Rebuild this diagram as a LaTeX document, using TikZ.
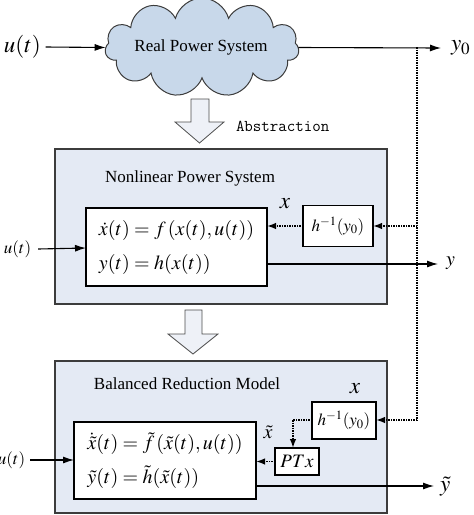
\documentclass[tikz,border=0pt]{standalone}
\usepackage{mathptmx}
\usepackage{fontspec}
\setmainfont{Liberation Serif}
\usetikzlibrary{shapes.symbols,arrows.meta}
\definecolor{boxblue}{HTML}{E4EAF4}
\definecolor{cloudblue}{HTML}{C8D8EA}
\definecolor{hollowfill}{HTML}{EEF1F7}
\definecolor{edgegray}{HTML}{3C3C3C}
\begin{document}
\begin{tikzpicture}[x=1pt,y=-1pt,
  every node/.style={inner sep=0pt,outer sep=0pt},
  arr/.style={line width=1.1pt,-{Latex[length=11pt,width=7pt]}},
  darr/.style={line width=1.5pt,densely dotted,-{Latex[length=9pt,width=6.5pt]}},
  dline/.style={line width=1.5pt,densely dotted},
  outerbox/.style={draw=edgegray,fill=boxblue,line width=1.2pt},
  innerbox/.style={draw=black,fill=white,line width=1.2pt,align=left,
    font=\fontsize{20}{34}\selectfont},
  smallbox/.style={draw=black,fill=white,line width=1.2pt},
  hollowarrow/.style={draw=black!70,fill=hollowfill,line width=0.8pt},
  titletext/.style={font=\fontsize{17}{20}\selectfont},
  bigmath/.style={font=\fontsize{23}{26}\selectfont},
  midmath/.style={font=\fontsize{20}{24}\selectfont},
  smallmath/.style={font=\fontsize{17}{20}\selectfont}]
\useasboundingbox (0,0) rectangle (474,515);

% top: real power system
\node[cloud,cloud puffs=11,cloud ignores aspect,draw=edgegray,fill=cloudblue,line width=1pt,
  minimum width=194pt,minimum height=99pt] (cloud) at (202,47.5) {};
\node[titletext] (cloudt) at (201,47) {Real Power System};
\node[bigmath,anchor=west] (u0) at (4,47) {$u(t)$};
\node[bigmath,anchor=west] (y0) at (451,48) {$y_0$};
\coordinate (j0) at (417,47);
\draw[arr] (u0.east) ++(5,0) -- (cloud.west);
\draw[arr] (cloud.east) -- ([xshift=-10pt]y0.west);

% hollow arrow 1
\draw[hollowarrow] (191,99) -- (209,99) -- (209,122) -- (224,122) -- (199.5,143) -- (175,122) -- (191,122) -- cycle;
\node[font=\ttfamily\fontsize{16.5}{18}\selectfont,anchor=west] (abs) at (236,126) {Abstraction};

% box 1
\node[outerbox,minimum width=332pt,minimum height=155pt] (box1) at (221,226.5) {};
\node[titletext] (t1) at (190,178) {Nonlinear Power System};
\node[innerbox,minimum width=181pt,minimum height=78pt] (in1) at (176.5,247)
  {$\dot{x}(t)=f\,(x(t),u(t))$\\ $y(t)=h(x(t))$};
\node[smallbox,minimum width=70pt,minimum height=41pt,font=\fontsize{17}{20}\selectfont] (h1) at (338,226) {$h^{-1}(y_0)$};
\node[bigmath] (x1) at (285,204) {$x$};
\node[smallmath,anchor=west] (u1) at (4,249) {$u(t)$};
\node[midmath,anchor=west] (y1) at (446,263) {$y$};
\coordinate (j1) at (417,226);
\draw[arr] (u1.east) ++(7,0) -- (in1.west |- 0,248);
\draw[arr] (in1.east |- 0,264) -- ([xshift=-8pt]y1.west |- 0,264);
\draw[darr] (j1) -- (h1.east);
\draw[darr] (h1.west) -- (in1.east |- h1.west);

% hollow arrow 2
\draw[hollowarrow] (185,310) -- (202,310) -- (202,334) -- (218,334) -- (193,354) -- (168,334) -- (185,334) -- cycle;

% box 2
\node[outerbox,minimum width=332pt,minimum height=152pt] (box2) at (221,437) {};
\node[titletext] (t2) at (187,384) {Balanced Reduction Model};
\node[innerbox,minimum width=182pt,minimum height=77pt] (in2) at (165,460.5)
  {$\dot{\tilde{x}}(t)=\tilde{f}\,(\tilde{x}(t),u(t))$\\ $\tilde{y}(t)=\tilde{h}(\tilde{x}(t))$};
\node[smallbox,minimum width=64pt,minimum height=37pt,font=\fontsize{17}{20}\selectfont] (h2) at (344,420.5) {$h^{-1}(y_0)$};
\node[bigmath] (x2) at (355,389) {$x$};
\node[smallbox,minimum width=44pt,minimum height=27pt,font=\fontsize{19}{22}\selectfont] (ptx) at (297,461.5) {$PTx$};
\node[midmath] (xt2) at (268,432) {$\tilde{x}$};
\node[smallmath,anchor=west] (u2) at (-2,460) {$u(t)$};
\node[bigmath,anchor=west] (y2) at (440,487) {$\tilde{y}$};
\coordinate (j2) at (417,420);
\coordinate (bend) at (293,420);
\draw[arr] (u2.east) ++(5,0) -- (in2.west |- 0,460);
\draw[arr] (in2.east |- 0,486) -- ([xshift=-6pt]y2.west |- 0,486);
\draw[darr] (j2) -- (h2.east |- j2);
\draw[dline] (h2.west |- bend) -- (bend);
\draw[darr] (bend) -- (bend |- ptx.north);
\draw[darr] (ptx.west) -- (in2.east |- ptx.west);

% vertical dotted feedback line
\draw[dline] (j0) -- (j2);
\end{tikzpicture}
\end{document}
